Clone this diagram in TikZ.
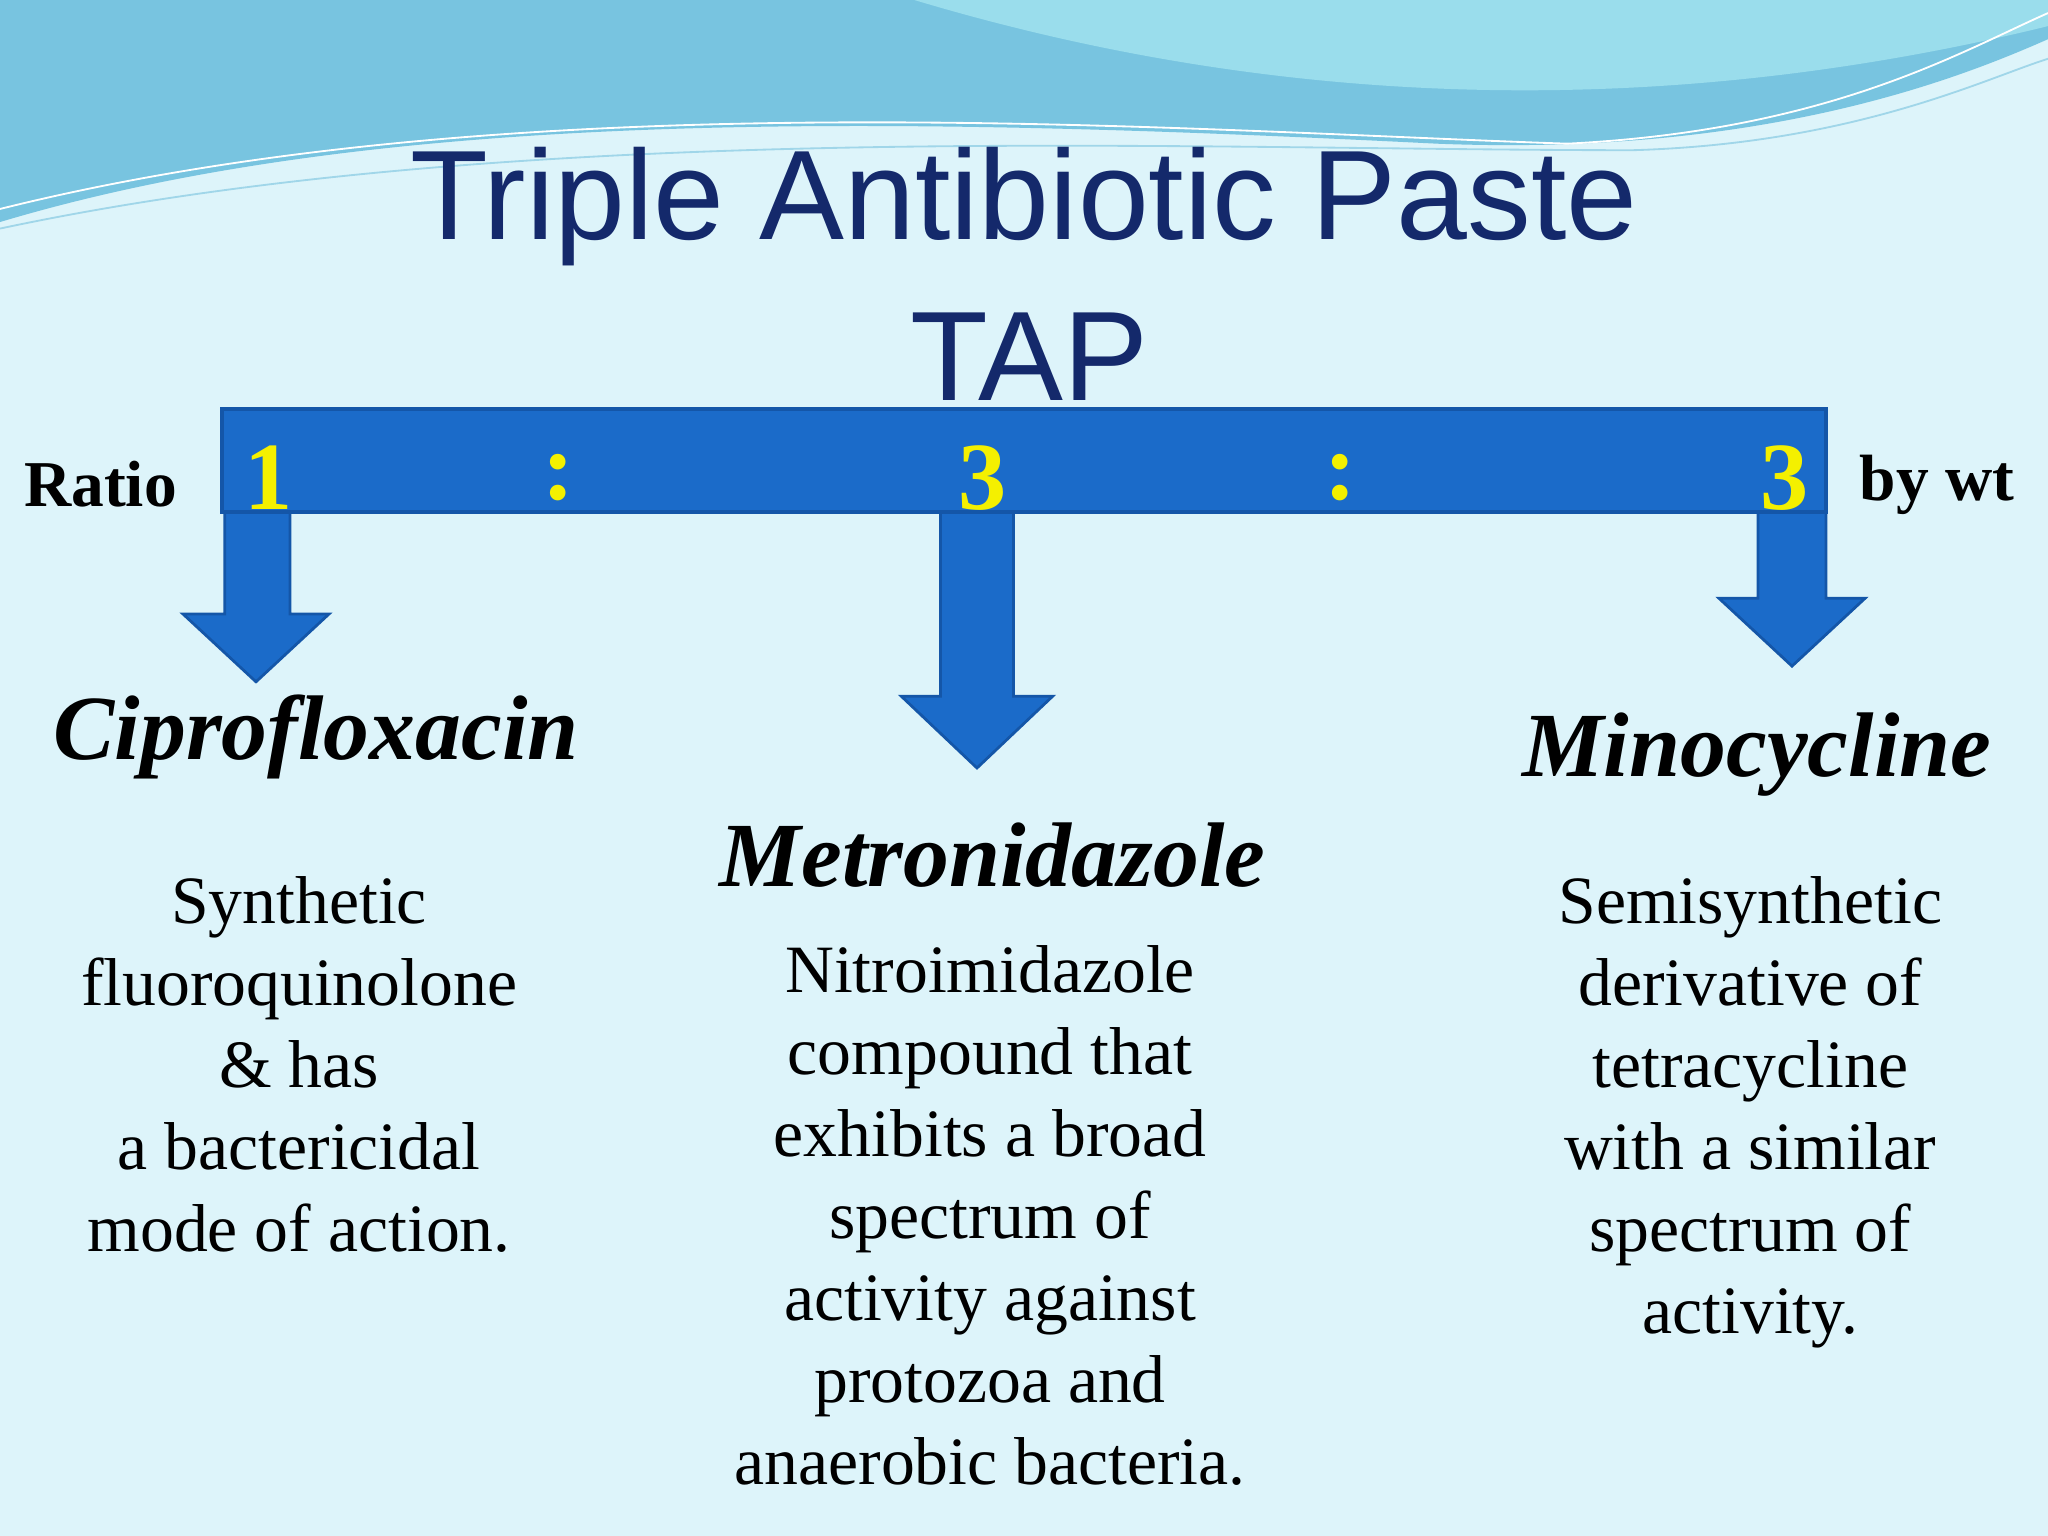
\documentclass[tikz,border=0pt]{standalone}
\usepackage{fontspec}
\setmainfont{Liberation Serif}
\newfontfamily\titlefont{Liberation Sans}
\definecolor{bg}{HTML}{DDF4FA}
\definecolor{navy}{HTML}{14296B}
\definecolor{barblue}{HTML}{1B6BC9}
\definecolor{bardark}{HTML}{1456A8}
\definecolor{waveA}{HTML}{78C4E0}
\definecolor{waveB}{HTML}{9ADDEC}
\definecolor{numyellow}{HTML}{F4F000}
\tikzset{
  px/.style={x=0.02cm,y=-0.02cm},
  numtxt/.style={text=numyellow,font=\fontsize{42}{48}\selectfont\bfseries},
  sidetxt/.style={font=\fontsize{28.5}{32}\selectfont\bfseries},
  drugtxt/.style={font=\fontsize{40}{46}\selectfont\bfseries\itshape},
  bodytxt/.style={align=center,font=\fontsize{29.5}{35.7}\selectfont},
  arrowshape/.style={fill=barblue,draw=bardark,line width=1.2pt},
}
\begin{document}
\begin{tikzpicture}[px]
\useasboundingbox (0,0) rectangle (1568,1176);
\fill[bg] (0,0) rectangle (1568,1176);
% waves
\fill[waveA] (0,0) -- (0,170) .. controls (300,80) and (700,90) .. (1100,110) .. controls (1350,120) and (1500,60) .. (1568,30) -- (1568,0) -- cycle;
\fill[waveB] (700,0) .. controls (900,60) and (1200,110) .. (1568,20) -- (1568,0) -- cycle;
\draw[white,line width=0.8pt] (0,160) .. controls (400,60) and (900,100) .. (1200,110) .. controls (1400,100) and (1500,40) .. (1568,10);
\draw[waveA!70!white,line width=0.8pt] (0,175) .. controls (400,90) and (900,115) .. (1250,115) .. controls (1420,110) and (1520,60) .. (1568,45);
% title
\node[text=navy,font=\titlefont\fontsize{55.5}{60}\selectfont] (title) at (784,158) {Triple Antibiotic Paste};
\node[text=navy,font=\titlefont\fontsize{55.5}{60}\selectfont] (tap) at (788,273) {TAP};
% arrows
\draw[arrowshape] (172,392) -- (222,392) -- (222,470) -- (252,470) -- (196,522) -- (140,470) -- (172,470) -- cycle;
\draw[arrowshape] (720,392) -- (776,392) -- (776,533) -- (806,533) -- (748,588) -- (690,533) -- (720,533) -- cycle;
\draw[arrowshape] (1346,392) -- (1398,392) -- (1398,458) -- (1428,458) -- (1372,510) -- (1316,458) -- (1346,458) -- cycle;
% bar
\node[draw=bardark,fill=barblue,line width=1.5pt,minimum width=1228*0.02cm,minimum height=79*0.02cm,inner sep=0pt] (bar) at (784,352.5) {};
\node[numtxt] (n1) at (206,366) {1};
\node[numtxt] (c1) at (428,366) {:};
\node[numtxt] (n2) at (752,366) {3};
\node[numtxt] (c2) at (1026,366) {:};
\node[numtxt] (n3) at (1366,366) {3};
\node[sidetxt] (ratio) at (77,371) {Ratio};
\node[sidetxt] (bywt) at (1483,371) {by wt};
% drugs
\node[drugtxt] (cip) at (242,564) {Ciprofloxacin};
\node[drugtxt] (met) at (760,655) {Metronidazole};
\node[drugtxt] (min) at (1345,578) {Minocycline};
\node[bodytxt,anchor=north] (cipt) at (229,665) {Synthetic\\fluoroquinolone\\\& has\\a bactericidal\\mode of action.};
\node[bodytxt,anchor=north] (mett) at (758,718) {Nitroimidazole\\compound that\\exhibits a broad\\spectrum of\\activity against\\protozoa and\\anaerobic bacteria.};
\node[bodytxt,anchor=north] (mint) at (1340,665) {Semisynthetic\\derivative of\\tetracycline\\with a similar\\spectrum of\\activity.};
\end{tikzpicture}
\end{document}
